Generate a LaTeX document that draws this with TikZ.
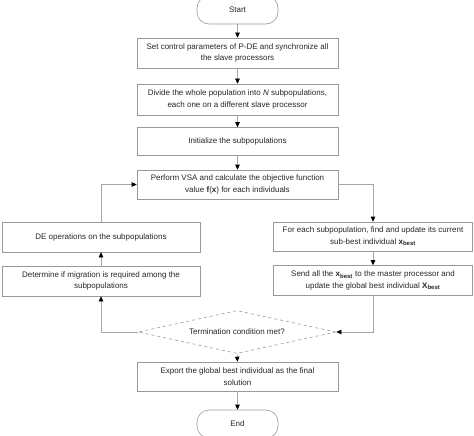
\documentclass[tikz,border=0pt]{standalone}
\usepackage{fontspec}
\setmainfont{Liberation Sans}
\usetikzlibrary{arrows.meta,shapes.geometric}
\begin{document}
\begin{tikzpicture}[x=1pt,y=-1pt,
  every node/.style={font=\fontsize{8}{11.5}\selectfont, text=black!85},
  procbox/.style={draw=black!40, line width=0.6pt, rectangle, inner sep=0pt, align=center, minimum height=29pt},
  termbox/.style={draw=black!40, line width=0.6pt, rectangle, rounded corners=12pt, minimum width=81pt, minimum height=28pt, inner sep=0pt},
  decbox/.style={draw=black!40, dashed, line width=0.6pt, diamond, aspect=4.6, inner sep=0pt, minimum width=198pt, minimum height=43pt},
  conn/.style={draw=black!35, line width=0.6pt, -{Triangle[length=5pt,width=4.5pt,color=black]}}
]
\useasboundingbox (0,0) rectangle (474,436);
\node[termbox] (start) at (237.5,10) {Start};
\node[procbox, minimum width=201pt, minimum height=30pt] (b1) at (237.5,53) {Set control parameters of P-DE and synchronize all\\the slave processors};
\node[procbox, minimum width=201pt, minimum height=31pt] (b2) at (237.5,99.5) {Divide the whole population into \textit{N} subpopulations,\\each one on a different slave processor};
\node[procbox, minimum width=201pt, minimum height=28pt] (b3) at (237.5,141.5) {Initialize the subpopulations};
\node[procbox, minimum width=201pt] (b4) at (237.5,184.5) {Perform VSA and calculate the objective function\\value \textbf{f}(\textbf{x}) for each individuals};
\node[procbox, minimum width=198pt, minimum height=30pt] (de) at (101,237) {DE operations on the subpopulations};
\node[procbox, minimum width=198pt, minimum height=30pt] (det) at (101,281) {Determine if migration is required among the\\subpopulations};
\node[procbox, minimum width=199pt] (fe) at (373,236.5) {For each subpopulation, find and update its current\\sub-best individual \textbf{x}\textsubscript{\textbf{best}}};
\node[procbox, minimum width=199pt, minimum height=30pt] (send) at (373,280.5) {Send all the \textbf{x}\textsubscript{\textbf{best}} to the master processor and\\update the global best individual \textbf{X}\textsubscript{\textbf{best}}};
\node[decbox] (dec) at (237,332) {Termination condition met?};
\node[procbox, minimum width=201pt] (exp) at (237.5,376.5) {Export the global best individual as the final\\solution};
\node[termbox] (end) at (237.5,424) {End};
\coordinate (rt) at (373,184.5);
\coordinate (rb) at (373,332);
\coordinate (lb) at (101,332);
\coordinate (lt) at (101,184.5);
\draw[conn] (start) -- (b1);
\draw[conn] (b1) -- (b2);
\draw[conn] (b2) -- (b3);
\draw[conn] (b3) -- (b4);
\draw[conn] (b4.east) -- (rt) -- (fe.north);
\draw[conn] (fe) -- (send);
\draw[conn] (send.south) -- (rb) -- (dec.east);
\draw[conn] (dec.west) -- (lb) -- (det.south);
\draw[conn] (det) -- (de);
\draw[conn] (de.north) -- (lt) -- (b4.west);
\draw[conn] (dec.south) -- (exp.north);
\draw[conn] (exp) -- (end);
\end{tikzpicture}
\end{document}
